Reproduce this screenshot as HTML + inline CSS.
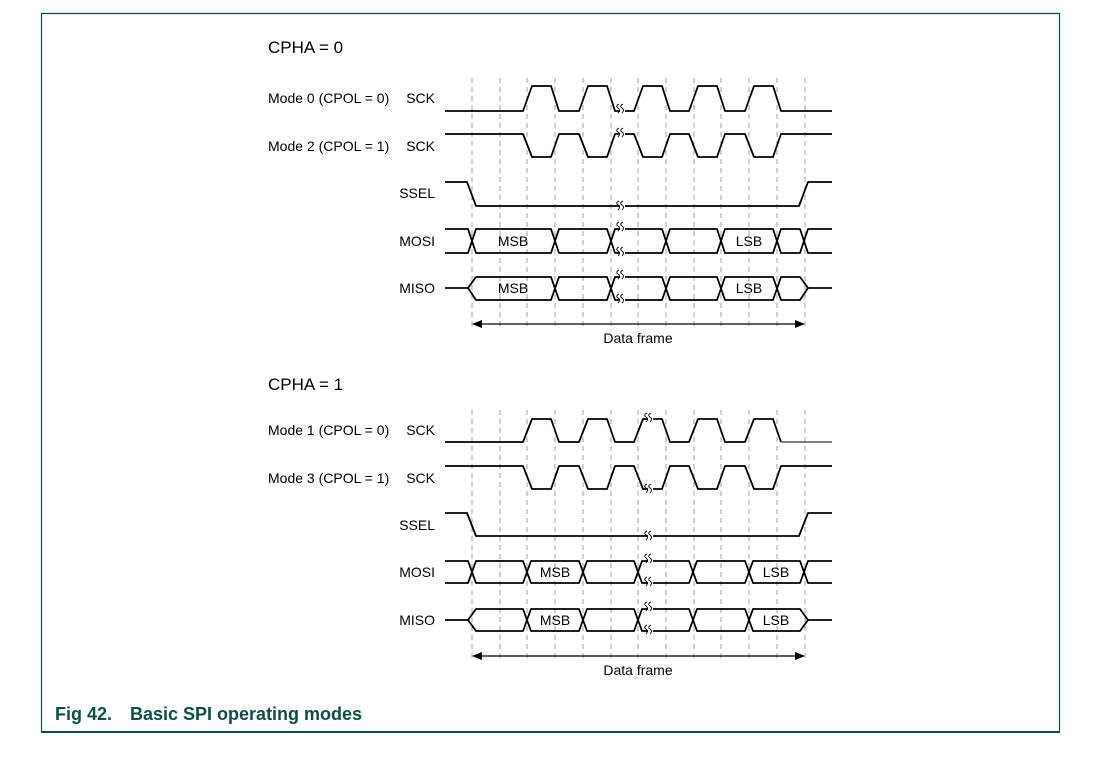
<!DOCTYPE html>
<html><head><meta charset="utf-8"><style>
html,body{margin:0;padding:0;background:#fff;}
svg{display:block;font-family:"Liberation Sans",Arial,sans-serif;}
.w{fill:none;stroke:#000;stroke-width:1.8;stroke-linejoin:round}
.d{stroke:#888;stroke-width:0.8;stroke-dasharray:5,4}
.l{font-size:14px;fill:#000}
.s{fill:none;stroke:#000;stroke-width:0.9}
</style></head><body>
<svg width="1099" height="757" viewBox="0 0 1099 757" xmlns="http://www.w3.org/2000/svg">
<rect x="0" y="0" width="1099" height="757" fill="#fff"/>
<path d="M41.5,13 V732 H1059 M41,13.5 H1059.5 V732" fill="none" stroke="#0b4f45" stroke-width="1.2"/>
<line x1="41" y1="732" x2="1060" y2="732" stroke="#0b4f45" stroke-width="2"/>
<text x="55" y="720" font-size="18" font-weight="bold" fill="#0b4f45">Fig 42.</text>
<text x="130" y="720" font-size="18" font-weight="bold" fill="#0b4f45">Basic SPI operating modes</text>

<g class="d">
<path d="M472,78V330M500,78V330M527,78V330M555,78V330M583,78V330M611,78V330M638,78V330M666,78V330M694,78V330M721,78V330M749,78V330M777,78V330M805,78V330"/>
<path d="M472,410V662M500,410V662M527,410V662M555,410V662M583,410V662M611,410V662M638,410V662M666,410V662M694,410V662M721,410V662M749,410V662M777,410V662M805,410V662"/>
</g>

<text x="268" y="53" font-size="17">CPHA = 0</text>
<text x="268" y="103" class="l">Mode 0 (CPOL = 0)</text><text x="435" y="103" class="l" text-anchor="end">SCK</text>
<text x="268" y="151" class="l">Mode 2 (CPOL = 1)</text><text x="435" y="151" class="l" text-anchor="end">SCK</text>
<text x="435" y="198" class="l" text-anchor="end">SSEL</text>
<text x="435" y="246" class="l" text-anchor="end">MOSI</text>
<text x="435" y="293" class="l" text-anchor="end">MISO</text>

<path class="w" d="M445,111 H523 L532,86 H551 L559,111 H579 L588,86 H607 L615,111 H634 L643,86 H662 L670,111 H689 L698,86 H717 L725,111 H745 L754,86 H773 L781,111 H832"/>
<path class="w" d="M445,134 H523 L532,157 H551 L559,134 H579 L588,157 H607 L615,134 H634 L643,157 H662 L670,134 H689 L698,157 H717 L725,134 H745 L754,157 H773 L781,134 H832"/>
<path class="w" d="M445,182 H467 L476,206 H799 L808,182 H832"/>
<path class="w" d="M445,229 H468 L476,253 H551 L559,229 H607 L615,253 H662 L670,229 H717 L725,253 H773 L781,229 H800 L808,253 H832"/>
<path class="w" d="M445,253 H468 L476,229 H551 L559,253 H607 L615,229 H662 L670,253 H717 L725,229 H773 L781,253 H800 L808,229 H832"/>
<path class="w" d="M445,288 H468 L476,277 H551 L559,300 H607 L615,277 H662 L670,300 H717 L725,277 H773 L781,300 H800 L808,288 H832"/>
<path class="w" d="M468,288 L476,300 H551 L559,277 H607 L615,300 H662 L670,277 H717 L725,300 H773 L781,277 H800 L808,288"/>
<text x="513" y="246" class="l" text-anchor="middle">MSB</text>
<text x="749" y="246" class="l" text-anchor="middle">LSB</text>
<text x="513" y="293" class="l" text-anchor="middle">MSB</text>
<text x="749" y="293" class="l" text-anchor="middle">LSB</text>

<g>
<rect x="620" y="104" width="5" height="10" fill="#fff"/>
<rect x="620" y="128" width="5" height="10" fill="#fff"/>
<rect x="620" y="200" width="5" height="10" fill="#fff"/>
<rect x="620" y="222" width="5" height="10" fill="#fff"/>
<rect x="620" y="246" width="5" height="10" fill="#fff"/>
<rect x="620" y="270" width="5" height="10" fill="#fff"/>
<rect x="620" y="293" width="5" height="10" fill="#fff"/>
<path class="s" d="M618,113 q3,-3 0,-5 q-3,-2 1,-4 M622,113 q3,-3 0,-5 q-3,-2 1,-4"/>
<path class="s" d="M618,137 q3,-3 0,-5 q-3,-2 1,-4 M622,137 q3,-3 0,-5 q-3,-2 1,-4"/>
<path class="s" d="M618,210 q3,-3 0,-5 q-3,-2 1,-4 M622,210 q3,-3 0,-5 q-3,-2 1,-4"/>
<path class="s" d="M618,231 q3,-3 0,-5 q-3,-2 1,-4 M622,231 q3,-3 0,-5 q-3,-2 1,-4"/>
<path class="s" d="M618,256 q3,-3 0,-5 q-3,-2 1,-4 M622,256 q3,-3 0,-5 q-3,-2 1,-4"/>
<path class="s" d="M618,279 q3,-3 0,-5 q-3,-2 1,-4 M622,279 q3,-3 0,-5 q-3,-2 1,-4"/>
<path class="s" d="M618,303 q3,-3 0,-5 q-3,-2 1,-4 M622,303 q3,-3 0,-5 q-3,-2 1,-4"/>
</g>

<line x1="480" y1="324" x2="796" y2="324" stroke="#000" stroke-width="1.2"/>
<path d="M472,324 L482,320 L482,328 Z M805,324 L795,320 L795,328 Z" fill="#000"/>
<text x="638" y="343" class="l" text-anchor="middle">Data frame</text>

<text x="268" y="390" font-size="17">CPHA = 1</text>
<text x="268" y="435" class="l">Mode 1 (CPOL = 0)</text><text x="435" y="435" class="l" text-anchor="end">SCK</text>
<text x="268" y="483" class="l">Mode 3 (CPOL = 1)</text><text x="435" y="483" class="l" text-anchor="end">SCK</text>
<text x="435" y="530" class="l" text-anchor="end">SSEL</text>
<text x="435" y="577" class="l" text-anchor="end">MOSI</text>
<text x="435" y="625" class="l" text-anchor="end">MISO</text>

<path class="w" d="M445,442 H523 L532,419 H551 L559,442 H579 L588,419 H607 L615,442 H634 L643,419 H662 L670,442 H689 L698,419 H717 L725,442 H745 L754,419 H773 L781,442"/>
<path d="M781,442 H832" stroke="#555" stroke-width="1.6" fill="none"/>
<path class="w" d="M445,466 H523 L532,489 H551 L559,466 H579 L588,489 H607 L615,466 H634 L643,489 H662 L670,466 H689 L698,489 H717 L725,466 H745 L754,489 H773 L781,466 H832"/>
<path class="w" d="M445,513 H467 L476,536 H799 L808,513 H832"/>
<path class="w" d="M445,561 H468 L476,583 H523 L531,561 H579 L587,583 H634 L642,561 H689 L697,583 H745 L753,561 H800 L808,583 H832"/>
<path class="w" d="M445,583 H468 L476,561 H523 L531,583 H579 L587,561 H634 L642,583 H689 L697,561 H745 L753,583 H800 L808,561 H832"/>
<path class="w" d="M445,620 H468 L476,609 H523 L531,631 H579 L587,609 H634 L642,631 H689 L697,609 H745 L753,631 H800 L808,620 H832"/>
<path class="w" d="M468,620 L476,631 H523 L531,609 H579 L587,631 H634 L642,609 H689 L697,631 H745 L753,609 H800 L808,620"/>
<text x="555" y="577" class="l" text-anchor="middle">MSB</text>
<text x="776" y="577" class="l" text-anchor="middle">LSB</text>
<text x="555" y="625" class="l" text-anchor="middle">MSB</text>
<text x="776" y="625" class="l" text-anchor="middle">LSB</text>

<g>
<rect x="648" y="413" width="5" height="10" fill="#fff"/>
<rect x="648" y="484" width="5" height="10" fill="#fff"/>
<rect x="648" y="531" width="5" height="10" fill="#fff"/>
<rect x="648" y="554" width="5" height="10" fill="#fff"/>
<rect x="648" y="577" width="5" height="10" fill="#fff"/>
<rect x="648" y="602" width="5" height="10" fill="#fff"/>
<rect x="648" y="625" width="5" height="10" fill="#fff"/>
<path class="s" d="M646,422 q3,-3 0,-5 q-3,-2 1,-4 M650,422 q3,-3 0,-5 q-3,-2 1,-4"/>
<path class="s" d="M646,493 q3,-3 0,-5 q-3,-2 1,-4 M650,493 q3,-3 0,-5 q-3,-2 1,-4"/>
<path class="s" d="M646,540 q3,-3 0,-5 q-3,-2 1,-4 M650,540 q3,-3 0,-5 q-3,-2 1,-4"/>
<path class="s" d="M646,563 q3,-3 0,-5 q-3,-2 1,-4 M650,563 q3,-3 0,-5 q-3,-2 1,-4"/>
<path class="s" d="M646,586 q3,-3 0,-5 q-3,-2 1,-4 M650,586 q3,-3 0,-5 q-3,-2 1,-4"/>
<path class="s" d="M646,611 q3,-3 0,-5 q-3,-2 1,-4 M650,611 q3,-3 0,-5 q-3,-2 1,-4"/>
<path class="s" d="M646,634 q3,-3 0,-5 q-3,-2 1,-4 M650,634 q3,-3 0,-5 q-3,-2 1,-4"/>
</g>

<line x1="480" y1="656" x2="796" y2="656" stroke="#000" stroke-width="1.2"/>
<path d="M472,656 L482,652 L482,660 Z M805,656 L795,652 L795,660 Z" fill="#000"/>
<text x="638" y="675" class="l" text-anchor="middle">Data frame</text>
</svg>
</body></html>
